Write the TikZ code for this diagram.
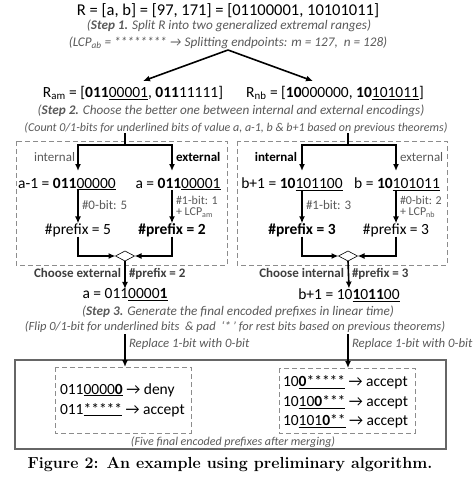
\documentclass[tikz,border=0pt]{standalone}
\usepackage{fontspec}
\newfontfamily\calfont{Carlito}
\usetikzlibrary{arrows.meta, positioning, shapes.geometric, calc}
\definecolor{notegray}{HTML}{595959}
\definecolor{dashgray}{HTML}{8C8C8C}
\definecolor{framegray}{HTML}{666666}

\begin{document}
\begin{tikzpicture}[
    x=1pt, y=-1pt,
    every node/.style={inner sep=0pt, outer sep=0pt},
    txt/.style={font=\calfont\fontsize{15.5}{17}\selectfont},
    note/.style={font=\calfont\itshape\fontsize{13.2}{15}\selectfont, text=notegray},
    lbl/.style={font=\calfont\fontsize{13}{14}\selectfont, text=notegray},
    sublbl/.style={font=\calfont\fontsize{12}{11}\selectfont, text=notegray, align=left},
    dbox/.style={draw=dashgray, dash pattern=on 5pt off 3pt, line width=1pt},
    arrow/.style={-{Latex[length=7pt, width=6pt]}, line width=1.6pt},
    link/.style={line width=1.6pt},
    merge/.style={diamond, draw, line width=0.6pt, minimum width=19pt, minimum height=10pt}
]
\useasboundingbox (0,0) rectangle (474,477);

% === Step 1 ===
\node[txt, font=\calfont\fontsize{16.5}{18}\selectfont] (range) at (228,11) {R = [a, b] = [97, 171] = [01100001, 10101011]};
\node[note] (step1) at (229,26) {(\textbf{Step 1.} Split R into two generalized extremal ranges)};
\node[note] (lcp) at (228,43) {(LCP\textsubscript{ab} = ******** → Splitting endpoints: m = 127,\ \ n = 128)};
\coordinate (split) at (228,50);
\coordinate (tipAm) at (143,81);
\coordinate (tipNb) at (313,81);
\draw[arrow] (split) -- (tipAm);
\draw[arrow] (split) -- (tipNb);

% === Step 2 ===
\node[txt] (ram) at (133,93) {R\textsubscript{am} = [\textbf{011}\underline{00001}, \textbf{011}11111]};
\node[txt] (rnb) at (335,93) {R\textsubscript{nb} = [\textbf{10}000000, \textbf{10}\underline{101011}]};
\node[note] (step2) at (231,111) {(\textbf{Step 2.} Choose the better one between internal and external encodings)};
\node[note, font=\calfont\itshape\fontsize{12}{14}\selectfont] (count) at (236,128) {(Count 0/1-bits for underlined bits of value a, a-1, b \& b+1 based on previous theorems)};

\draw[dbox] (16,141) rectangle (227,265);
\draw[dbox] (237,141) rectangle (447,265);

% left range: a-1 vs a
\coordinate (forkL) at (125,133);
\coordinate (inAm1) at (78,171);
\coordinate (inA) at (172,171);
\draw[link] (forkL) -- (125,145);
\draw[arrow] (125,145) -| (inAm1);
\draw[arrow] (125,145) -| (inA);
\node[lbl, anchor=east] (intL) at (75,157) {internal};
\node[lbl, anchor=west, text=black] (extL) at (176,157) {\textbf{external}};
\node[txt] (am1) at (67,184) {a-1 = \textbf{011}\underline{00000}};
\node[txt] (a) at (178,184) {a = \textbf{011}\underline{00001}};
\node[txt] (pfx5) at (78,230) {\#prefix = 5};
\node[txt] (pfx2) at (172,230) {\textbf{\#prefix = 2}};
\draw[arrow] (am1.south -| inAm1) -- (pfx5.north);
\draw[arrow] (a.south -| inA) -- (pfx2.north);
\node[lbl, anchor=west] (cntAm1) at (82,205) {\#0-bit: 5};
\node[sublbl, anchor=west] (cntA) at (176,207) {\#1-bit: 1\\+ LCP\textsubscript{am}};
\node[merge] (mergeL) at (125,256) {};
\draw[arrow] (pfx5.south) |- (mergeL.west);
\draw[arrow] (pfx2.south) |- (mergeL.east);

% right range: b+1 vs b
\coordinate (forkR) at (348,133);
\coordinate (inBp1) at (302,171);
\coordinate (inB) at (396,171);
\draw[link] (forkR) -- (348,145);
\draw[arrow] (348,145) -| (inBp1);
\draw[arrow] (348,145) -| (inB);
\node[lbl, anchor=east, text=black] (intR) at (297,157) {\textbf{internal}};
\node[lbl, anchor=west] (extR) at (400,157) {external};
\node[txt] (bp1) at (292,184) {b+1 = \textbf{10}\underline{101100}};
\node[txt] (b) at (397,184) {b = \textbf{10}\underline{101011}};
\node[txt] (pfx3a) at (302,230) {\textbf{\#prefix = 3}};
\node[txt] (pfx3b) at (396,230) {\#prefix = 3};
\draw[arrow] (bp1.south -| inBp1) -- (pfx3a.north);
\draw[arrow] (b.south -| inB) -- (pfx3b.north);
\node[lbl, anchor=west] (cntBp1) at (306,205) {\#1-bit: 3};
\node[sublbl, anchor=west] (cntB) at (400,207) {\#0-bit: 2\\+ LCP\textsubscript{nb}};
\node[merge] (mergeR) at (348,256) {};
\draw[arrow] (pfx3a.south) |- (mergeR.west);
\draw[arrow] (pfx3b.south) |- (mergeR.east);

% === choices ===
\node[lbl, anchor=east, text=notegray!70!black] (chooseL) at (121,273) {\textbf{Choose external}};
\node[lbl, anchor=west, text=notegray!70!black] (bestL) at (129,274) {\textbf{\#prefix = 2}};
\node[lbl, anchor=east, text=notegray!70!black] (chooseR) at (344,273) {\textbf{Choose internal}};
\node[lbl, anchor=west, text=notegray!70!black] (bestR) at (352,274) {\textbf{\#prefix = 3}};
\node[txt] (aSel) at (125,295) {a = 011\underline{0000\textbf{1}}};
\node[txt] (bSel) at (349,295) {b+1 = 10\underline{\textbf{1}0\textbf{11}00}};
\draw[arrow] (mergeL.south) -- (aSel.north);
\draw[arrow] (mergeR.south) -- (bSel.north);

% === Step 3 ===
\node[note] (step3) at (238,312) {(\textbf{Step 3.} Generate the final encoded prefixes in linear time)};
\node[note, font=\calfont\itshape\fontsize{12.5}{14}\selectfont] (flip) at (235,327) {(Flip 0/1-bit for underlined bits\ \ \& pad\ \ ‘*\,’ for rest bits based on previous theorems)};

\draw[framegray, line width=1.3pt] (15,360) rectangle (446,449);
\draw[dbox] (55,367) rectangle (191,433);
\draw[dbox] (279,368) rectangle (415,433);
\coordinate (dropL) at (125,334);
\coordinate (dropR) at (348,334);
\draw[arrow] (dropL) -- (125,367);
\draw[arrow] (dropR) -- (348,368);
\node[note, anchor=west, font=\calfont\itshape\fontsize{12.8}{14}\selectfont] (replL) at (129,344) {Replace 1-bit with 0-bit};
\node[note, anchor=west, font=\calfont\itshape\fontsize{12.8}{14}\selectfont] (replR) at (352,344) {Replace 1-bit with 0-bit};

\node[txt, anchor=west] (deny) at (60,390) {011\underline{0000\textbf{0}} → deny};
\node[txt, anchor=west] (accA) at (60,410) {011\underline{*****} → accept};
\node[txt, anchor=west] (acc1) at (283,382) {10\underline{\textbf{0}*****} → accept};
\node[txt, anchor=west] (acc2) at (283,402) {10\underline{10\textbf{0}***} → accept};
\node[txt, anchor=west] (acc3) at (283,421) {10\underline{101\textbf{0}**} → accept};
\node[note, font=\calfont\itshape\fontsize{12}{13}\selectfont] (merged) at (233,442) {(Five final encoded prefixes after merging)};

% === caption ===
\node[font=\rmfamily\bfseries\fontsize{16}{18}\selectfont] (caption) at (230,465) {Figure 2: An example using preliminary algorithm.};
\end{tikzpicture}
\end{document}
